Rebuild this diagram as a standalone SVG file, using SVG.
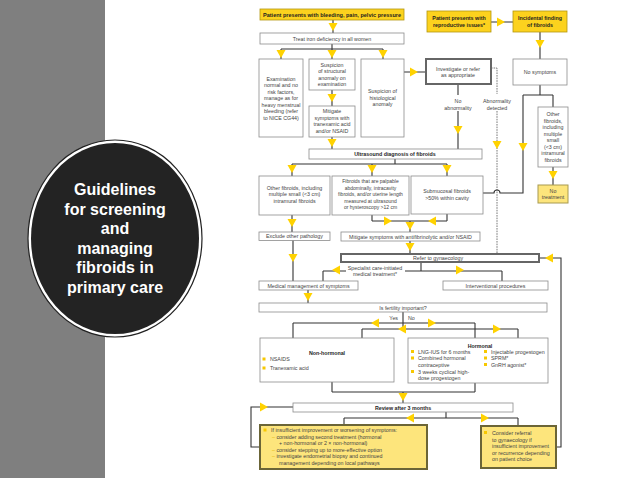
<svg xmlns="http://www.w3.org/2000/svg" width="638" height="478" viewBox="0 0 638 478">
<style>
.b{fill:#fff;stroke:#8c8c8c;stroke-width:0.8}
.bt{fill:#fff;stroke:#666;stroke-width:2}
.y{fill:#fcd21e;stroke:#b3970f;stroke-width:0.8}
.ly{fill:#fde57c;stroke:#6b6537;stroke-width:2}
.lyt{fill:#fde57c;stroke:#a89a50;stroke-width:1}
.ln{fill:none;stroke:#333;stroke-width:1.1}
.dash{fill:none;stroke:#555;stroke-width:0.8;stroke-dasharray:1.6 1}
.tri{fill:#ffd200}
.bul{fill:#f7c800}
text{font-family:"Liberation Sans",Arial,sans-serif;font-size:5.3px;fill:#444;text-anchor:middle}
.tb{font-weight:bold;fill:#1e1e1e}
.l{text-anchor:start}
.d{fill:#e2b200}
.c{font-family:"Liberation Sans",Arial,sans-serif;font-size:16px;font-weight:bold;fill:#fff}
</style>
<defs>
<path id="ad" class="tri" d="M-4.5,-4 H4.5 L0,4 Z"/>
<path id="ar" class="tri" d="M-4,-4.5 V4.5 L4,0 Z"/>
<path id="al" class="tri" d="M4,-4.5 V4.5 L-4,0 Z"/>
</defs>
<rect width="638" height="478" fill="#fff"/>
<rect x="0" y="0" width="105" height="478" fill="#7f7f7f"/>
<g id="title">
<ellipse cx="115" cy="238.5" rx="87" ry="98.5" fill="#fff" stroke="#222" stroke-width="1.2"/>
<ellipse cx="115" cy="238.5" rx="84" ry="95.5" fill="#232323"/>
<text class="c" x="115" y="195">Guidelines</text>
<text class="c" x="115" y="214.5">for screening</text>
<text class="c" x="115" y="234">and</text>
<text class="c" x="115" y="253.5">managing</text>
<text class="c" x="115" y="273">fibroids in</text>
<text class="c" x="115" y="292.5">primary care</text>
</g>

<g id="connectors">
<path class="ln" d="M333,20V33 M332,44V49 M281,49H383 M281,49V59 M332,49V59 M383,49V59"/>
<path class="ln" d="M332,90V106 M332,137V149 M404,72H426"/>
<path class="ln" d="M458,84V95 M458,111V149"/>
<path class="dash" d="M491,68H497V94 M497,111V254"/>
<path class="ln" d="M491,22H513 M540,32V59"/>
<path class="ln" d="M540,85V95 M523,95H553 M553,95V107 M523,95V193 H500 A3,3 0 0 0 494,193 H483"/>
<path class="ln" d="M553,167V185"/>
<path class="ln" d="M395,159V164 M292,164H447 M292,164V176 M372,164V176 M447,164V176"/>
<path class="ln" d="M372,215V221 M447,214V221 M372,221H447 M410,221V232"/>
<path class="ln" d="M292,215V232 M410,241V254 M293,240V281"/>
<path class="ln" d="M421,262V271 M323,271H346 M405,271H502 M323,271V281 M502,271V281"/>
<path class="ln" d="M539,258H561V447H556"/>
<path class="ln" d="M308,290V303"/>
<path class="ln" d="M403,312V329 M293,323H475 M293,323V338 M475,323V338 M362,329H518 M362,329V338 M518,329V338"/>
<path class="ln" d="M332,382V392 M475,383V392 M332,392H475 M403,392V403"/>
<path class="ln" d="M260,447H251V407H293"/>
<path class="ln" d="M446,412V418 M344,418H518 M344,418V425 M518,418V426"/>
<use href="#ad" x="333" y="27"/>
<use href="#ad" x="281" y="54"/>
<use href="#ad" x="332" y="54"/>
<use href="#ad" x="383" y="54"/>
<use href="#ad" x="332" y="98"/>
<use href="#ad" x="332" y="143"/>
<use href="#ar" x="414" y="72"/>
<use href="#ad" x="458" y="130"/>
<use href="#ad" x="497" y="145"/>
<use href="#ar" x="501" y="22"/>
<use href="#ad" x="540" y="44"/>
<use href="#ad" x="523" y="147"/>
<use href="#ad" x="553" y="175"/>
<use href="#ad" x="292" y="169"/>
<use href="#ad" x="372" y="169"/>
<use href="#ad" x="447" y="169"/>
<use href="#ar" x="388" y="221"/>
<use href="#al" x="432" y="221"/>
<use href="#ad" x="410" y="226"/>
<use href="#ad" x="292" y="223"/>
<use href="#ad" x="410" y="247"/>
<use href="#ad" x="293" y="258"/>
<use href="#al" x="336" y="270"/>
<use href="#ar" x="460" y="270"/>
<use href="#al" x="549" y="258"/>
<use href="#ad" x="308" y="297"/>
<use href="#al" x="375" y="323"/>
<use href="#ar" x="432" y="323"/>
<use href="#al" x="402" y="329"/>
<use href="#ar" x="497" y="329"/>
<use href="#ad" x="403" y="397"/>
<use href="#ar" x="264" y="407"/>
<use href="#al" x="410" y="418"/>
<use href="#ar" x="485" y="418"/>
<text x="458" y="103">No</text>
<text x="458" y="109.5">abnormality</text>
<text x="497" y="103">Abnormality</text>
<text x="497" y="109.5">detected</text>
<text x="375" y="269.5">Specialist care-initiated</text>
<text x="375" y="276">medical treatment*</text>
<text x="398" y="320" style="text-anchor:end">Yes</text>
<text x="408" y="320" class="l">No</text>
</g>

<g id="n-top"><rect class="y" x="260" y="9" width="144" height="11"/><text class="tb" x="332" y="16.5" textLength="138" lengthAdjust="spacingAndGlyphs">Patient presents with bleeding, pain, pelvic pressure</text></g>
<g id="n-iron"><rect class="b" x="260" y="33" width="144" height="11"/><text x="332" y="40.5">Treat iron deficiency in all women</text></g>
<g id="n-repro"><rect class="y" x="427" y="11" width="64" height="21"/><text class="tb" x="459" y="20">Patient presents with</text><text class="tb" x="459" y="26.5">reproductive issues*</text></g>
<g id="n-incid"><rect class="y" x="513" y="11" width="54" height="21"/><text class="tb" x="540" y="20">Incidental finding</text><text class="tb" x="540" y="26.5">of fibroids</text></g>
<g id="n-exam"><rect class="b" x="259" y="59" width="44" height="78"/>
<text x="281" y="80.5">Examination</text><text x="281" y="87">normal and no</text><text x="281" y="93.5">risk factors,</text><text x="281" y="100">manage as for</text><text x="281" y="106.5">heavy menstrual</text><text x="281" y="113">bleeding (refer</text><text x="281" y="119.5">to NICE CG44)</text></g>
<g id="n-struct"><rect class="b" x="309" y="59" width="46" height="31"/>
<text x="332" y="66.5">Suspicion</text><text x="332" y="73">of structural</text><text x="332" y="79.5">anomaly on</text><text x="332" y="86">examination</text></g>
<g id="n-mitig1"><rect class="b" x="309" y="106" width="46" height="31"/>
<text x="332" y="113">Mitigate</text><text x="332" y="119.5">symptoms with</text><text x="332" y="126">tranexamic acid</text><text x="332" y="132.5">and/or NSAID</text></g>
<g id="n-histo"><rect class="b" x="361" y="59" width="43" height="78"/>
<text x="382.5" y="93">Suspicion of</text><text x="382.5" y="99.5">histological</text><text x="382.5" y="106">anomaly</text></g>
<g id="n-invest"><rect class="bt" x="426" y="59" width="65" height="25"/>
<text x="458" y="70.5">Investigate or refer</text><text x="458" y="77">as appropriate</text></g>
<g id="n-nosym"><rect class="b" x="513" y="59" width="54" height="26"/><text x="540" y="74">No symptoms</text></g>
<g id="n-other1"><rect class="b" x="538" y="107" width="30" height="60"/>
<text x="553" y="116">Other</text><text x="553" y="122.5">fibroids,</text><text x="553" y="129">including</text><text x="553" y="135.5">multiple</text><text x="553" y="142">small</text><text x="553" y="148.5">(&lt;3 cm)</text><text x="553" y="155">intramural</text><text x="553" y="161.5">fibroids</text></g>
<g id="n-notreat"><rect class="lyt" x="538" y="185" width="30" height="18"/><text x="553" y="192.5">No</text><text x="553" y="199">treatment</text></g>
<g id="n-ultra"><rect class="b" x="309" y="149" width="173" height="10"/><text class="tb" x="395" y="156">Ultrasound diagnosis of fibroids</text></g>
<g id="n-other2"><rect class="b" x="259" y="176" width="71" height="39"/>
<text x="294.5" y="189.5">Other fibroids, including</text><text x="294.5" y="196">multiple small (&lt;3 cm)</text><text x="294.5" y="202.5">intramural fibroids</text></g>
<g id="n-palp"><rect class="b" x="332" y="176" width="77" height="39"/>
<text x="370.5" y="183" style="font-size:5px">Fibroids that are palpable</text><text x="370.5" y="189.5" style="font-size:5px">abdominally, intracavity</text><text x="370.5" y="196" style="font-size:5px">fibroids, and/or uterine length</text><text x="370.5" y="202.5" style="font-size:5px">measured at ultrasound</text><text x="370.5" y="209" style="font-size:5px">or hysteroscopy &gt;12 cm</text></g>
<g id="n-submuc"><rect class="b" x="411" y="176" width="72" height="38"/>
<text x="447" y="193">Submucosal fibroids</text><text x="447" y="199.5">&gt;50% within cavity</text></g>
<g id="n-exclude"><rect class="b" x="259" y="232" width="71" height="8.5"/><text x="294.5" y="238.3">Exclude other pathology</text></g>
<g id="n-mitig2"><rect class="b" x="341" y="232" width="139" height="9"/><text x="410.5" y="238.5">Mitigate symptoms with antifibrinolytic and/or NSAID</text></g>
<g id="n-refer"><rect class="bt" x="341" y="254" width="198" height="8"/><text x="438" y="260">Refer to gynaecology</text></g>
<g id="n-medical"><rect class="b" x="259" y="281" width="99" height="9"/><text x="308.5" y="287.7">Medical management of symptoms</text></g>
<g id="n-interv"><rect class="b" x="443" y="281" width="105" height="9"/><text x="495.5" y="287.7">Interventional procedures</text></g>
<g id="n-fert"><rect class="b" x="259" y="303" width="288" height="9"/><text x="403" y="309.7">Is fertility important?</text></g>
<g id="n-nonhorm"><rect class="b" x="260" y="338" width="134" height="44"/>
<text class="tb" x="327" y="354.5">Non-hormonal</text>
<rect class="bul" x="262.5" y="357.5" width="3" height="3"/><text class="l" x="270" y="361">NSAIDS</text>
<rect class="bul" x="262.5" y="366.5" width="3" height="3"/><text class="l" x="270" y="370">Tranexamic acid</text></g>
<g id="n-horm"><rect class="b" x="408" y="338" width="140" height="45"/>
<text class="tb" x="480" y="348">Hormonal</text>
<rect class="bul" x="411" y="350" width="3" height="3"/><text class="l" x="418" y="353.5">LNG-IUS for 6 months</text>
<rect class="bul" x="411" y="356.5" width="3" height="3"/><text class="l" x="418" y="360">Combined hormonal</text>
<text class="l" x="418" y="366.5">contraceptive</text>
<rect class="bul" x="411" y="370" width="3" height="3"/><text class="l" x="418" y="373.5">3 weeks cyclical high-</text>
<text class="l" x="418" y="380">dose progestogen</text>
<rect class="bul" x="484" y="350" width="3" height="3"/><text class="l" x="491" y="353.5">Injectable progestogen</text>
<rect class="bul" x="484" y="356.5" width="3" height="3"/><text class="l" x="491" y="360">SPRM*</text>
<rect class="bul" x="484" y="363" width="3" height="3"/><text class="l" x="491" y="366.5">GnRH agonist*</text></g>
<g id="n-review"><rect class="b" x="293" y="403" width="220" height="9"/><text class="tb" x="403" y="409.7">Review after 3 months</text></g>
<g id="n-insuff"><rect class="ly" x="260" y="425" width="167" height="44"/>
<rect class="bul" x="263.5" y="428.5" width="3" height="3"/><text class="l" x="271" y="432">If insufficient improvement or worsening of symptoms:</text>
<text class="l" x="272" y="438.5"><tspan class="d">–</tspan> consider adding second treatment (hormonal</text>
<text class="l" x="279" y="445">+ non-hormonal or 2 × non-hormonal)</text>
<text class="l" x="272" y="451.5"><tspan class="d">–</tspan> consider stepping up to more-effective option</text>
<text class="l" x="272" y="458"><tspan class="d">–</tspan> investigate endometrial biopsy and continued</text>
<text class="l" x="279" y="464.5">management depending on local pathways</text></g>
<g id="n-consider"><rect class="ly" x="481" y="426" width="75" height="42"/>
<rect class="bul" x="484" y="431" width="3" height="3"/>
<text class="l" x="492" y="435">Consider referral</text>
<text class="l" x="492" y="441.5">to gynaecology if</text>
<text class="l" x="492" y="448">insufficient improvement</text>
<text class="l" x="492" y="454.5">or recurrence depending</text>
<text class="l" x="492" y="461">on patient choice</text></g>
</svg>
